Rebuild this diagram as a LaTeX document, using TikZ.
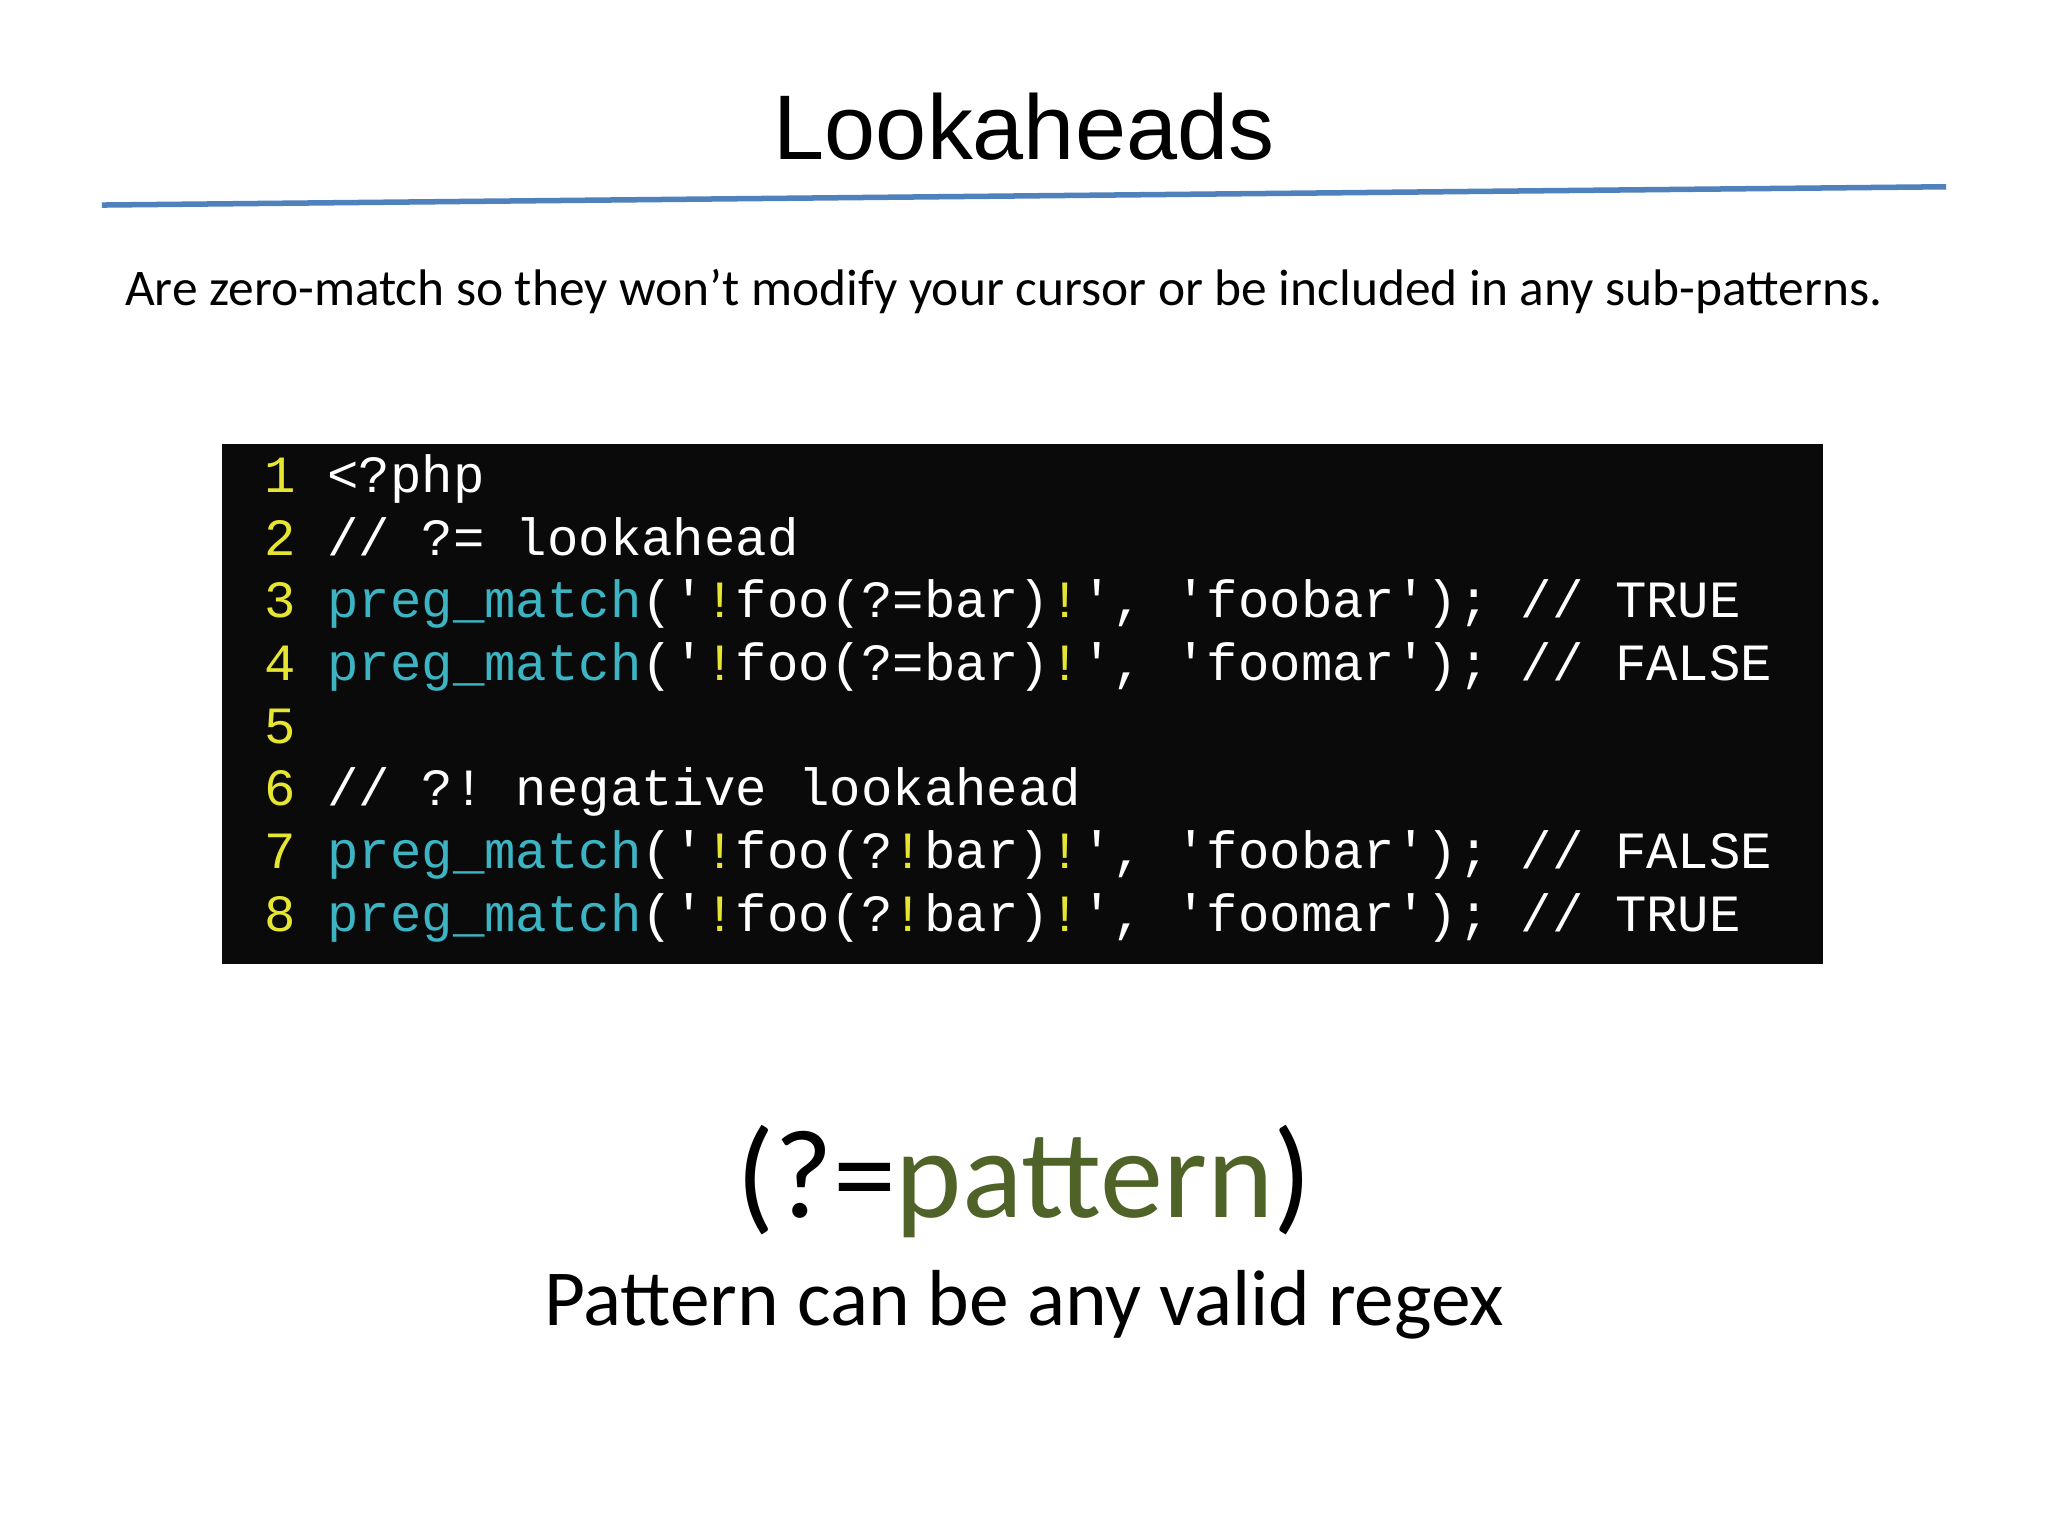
\documentclass[tikz,border=0pt]{standalone}
\usepackage{fontspec}
\setmainfont{Carlito}
\newfontfamily\titlefont{Liberation Sans}
\newfontfamily\codefont{Liberation Mono}
\definecolor{lnum}{HTML}{E6E632}
\definecolor{fn}{HTML}{3CB4C3}
\definecolor{bang}{HTML}{E6E632}
\definecolor{olive}{HTML}{4F6228}
\definecolor{rule}{HTML}{4F81BD}
\newcommand{\LN}[1]{\textcolor{lnum}{#1}}
\newcommand{\FN}{\textcolor{fn}{preg\_match}}
\newcommand{\BG}{\textcolor{bang}{!}}
\frenchspacing
\begin{document}
\begin{tikzpicture}[x=1cm,y=1cm,
  codeline/.style={anchor=base west,inner sep=0pt,text=white,font=\codefont\fontsize{11.4}{12}\selectfont}]
\useasboundingbox (0,0) rectangle (15.68,-11.76);
\fill[white] (0,0) rectangle (15.68,-11.76);
\node[font=\titlefont\fontsize{20}{24}\selectfont,anchor=base] (title) at (7.84,-1.22) {Lookaheads};
\draw[rule,line width=1.2pt] (0.78,-1.57) -- (14.90,-1.43);
\node[anchor=base west,inner sep=0pt,font=\fontsize{11.2}{13}\selectfont] (sub) at (0.95,-2.34) {Are zero-match so they won’t modify your cursor or be included in any sub-patterns.};
\fill[black!96] (1.70,-3.40) rectangle (13.96,-7.38);
\node[codeline] (l1) at (2.02,-3.77) {\LN{1} <?php};
\node[codeline] (l2) at (2.02,-4.25) {\LN{2} // ?= lookahead};
\node[codeline] (l3) at (2.02,-4.73) {\LN{3} \FN('\BG foo(?=bar)\BG', 'foobar'); // TRUE};
\node[codeline] (l4) at (2.02,-5.21) {\LN{4} \FN('\BG foo(?=bar)\BG', 'foomar'); // FALSE};
\node[codeline] (l5) at (2.02,-5.69) {\LN{5}};
\node[codeline] (l6) at (2.02,-6.17) {\LN{6} // ?! negative lookahead};
\node[codeline] (l7) at (2.02,-6.65) {\LN{7} \FN('\BG foo(?\BG bar)\BG', 'foobar'); // FALSE};
\node[codeline] (l8) at (2.02,-7.13) {\LN{8} \FN('\BG foo(?\BG bar)\BG', 'foomar'); // TRUE};
\node[anchor=base,font=\fontsize{27.5}{30}\selectfont] (pat) at (7.84,-9.32) {(?=\textcolor{olive}{pattern})};
\node[anchor=base,font=\fontsize{17.3}{20}\selectfont] (desc) at (7.84,-10.15) {Pattern can be any valid regex};
\end{tikzpicture}
\end{document}
